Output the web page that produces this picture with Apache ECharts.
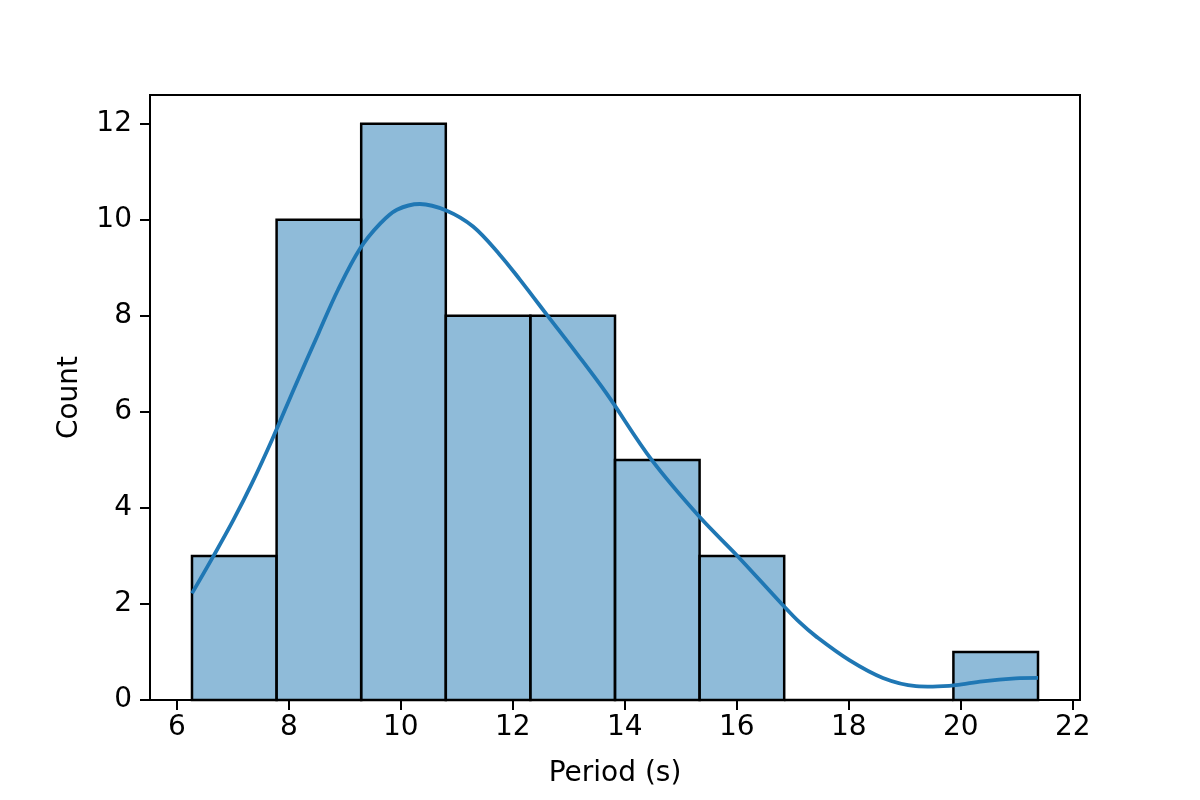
<!DOCTYPE html>
<html>
<head>
<meta charset="utf-8">
<title>Period histogram</title>
<script src="https://cdn.jsdelivr.net/npm/echarts@6/dist/echarts.min.js"></script>
<style>
  html, body { margin: 0; padding: 0; background: #fff; }
  #main { width: 1200px; height: 800px; }
</style>
</head>
<body>
<div id="main"></div>
<script>
// histogram bins (left edges + last right edge) and counts
const binEdges = [6.27, 7.781, 9.292, 10.803, 12.314, 13.825, 15.336, 16.847, 18.358, 19.869, 21.38];
const counts = [3, 10, 12, 8, 8, 5, 3, 0, 0, 1];

// KDE curve
const kdeX = [6.27, 6.65, 7.01, 7.34, 7.70, 8.11, 8.53, 8.88, 9.27, 9.63, 9.93, 10.34, 10.82, 11.29, 11.77, 12.13, 12.36, 12.63, 13.14, 13.67, 14.48, 15.33, 16.02, 16.82, 17.12, 17.42, 18.01, 18.61, 19.20, 19.50, 19.91, 20.39, 20.98, 21.38];
const kdeY = [2.22, 2.99, 3.75, 4.51, 5.42, 6.53, 7.64, 8.55, 9.40, 9.92, 10.21, 10.33, 10.19, 9.86, 9.27, 8.75, 8.40, 7.99, 7.22, 6.39, 5.00, 3.82, 2.99, 1.98, 1.62, 1.32, 0.83, 0.46, 0.29, 0.28, 0.31, 0.39, 0.45, 0.46];

const xTicks = [6, 8, 10, 12, 14, 16, 18, 20, 22];
const yTicks = [0, 2, 4, 6, 8, 10, 12];

const font = 'DejaVu Sans';

const histData = counts.map((c, i) => [binEdges[i], binEdges[i + 1], c]);
const kdeData = kdeX.map((x, i) => [x, kdeY[i]]);

const chart = echarts.init(document.getElementById('main'));

const option = {
  animation: false,
  backgroundColor: '#fff',
  grid: {
    left: 150, right: 120, top: 95, bottom: 100,
    show: true, borderColor: '#000', borderWidth: 2, backgroundColor: 'transparent'
  },
  xAxis: {
    type: 'value',
    min: 5.52,
    max: 22.13,
    name: 'Period (s)',
    nameLocation: 'middle',
    nameGap: 60,
    nameTextStyle: { fontFamily: font, fontSize: 28, color: '#000' },
    axisLine: { show: true, lineStyle: { color: '#000', width: 2 } },
    axisTick: { show: true, length: 10, lineStyle: { color: '#000', width: 2 }, customValues: xTicks },
    axisLabel: { fontFamily: font, fontSize: 28, color: '#000', margin: 14, customValues: xTicks },
    splitLine: { show: false }
  },
  yAxis: {
    type: 'value',
    min: 0,
    max: 12.6,
    name: 'Count',
    nameLocation: 'middle',
    nameGap: 66,
    nameRotate: 90,
    nameTextStyle: { fontFamily: font, fontSize: 28, color: '#000' },
    axisLine: { show: true, lineStyle: { color: '#000', width: 2 } },
    axisTick: { show: true, length: 10, lineStyle: { color: '#000', width: 2 }, customValues: yTicks },
    axisLabel: { fontFamily: font, fontSize: 28, color: '#000', margin: 18, customValues: yTicks },
    splitLine: { show: false }
  },
  series: [
    {
      type: 'custom',
      data: histData,
      encode: { x: [0, 1], y: 2 },
      renderItem: function (params, api) {
        const p0 = api.coord([api.value(0), api.value(2)]);
        const p1 = api.coord([api.value(1), 0]);
        return {
          type: 'rect',
          shape: { x: p0[0], y: p0[1], width: p1[0] - p0[0], height: p1[1] - p0[1] },
          style: { fill: 'rgba(31,119,180,0.5)', stroke: '#000', lineWidth: 2.5 }
        };
      },
      z: 2
    },
    {
      type: 'line',
      data: kdeData,
      smooth: 0.35,
      showSymbol: false,
      lineStyle: { color: '#1f77b4', width: 3.8 },
      z: 3
    }
  ]
};

chart.setOption(option);
</script>
</body>
</html>
